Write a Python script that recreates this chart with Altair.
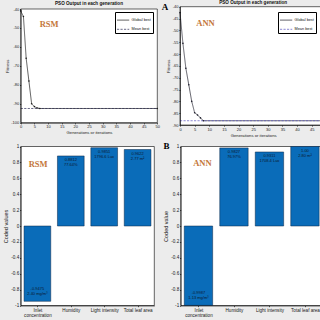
import altair as alt
import pandas as pd

# ---- PSO convergence histories (best fitness per generation) ----
rsm_gen = [0, 1, 2, 3, 4, 5, 6, 7, 50]
rsm_global_best = [-41, -44, -66, -78, -90, -91.5, -92.2, -92.5, -92.5]
rsm_mean_gen = [0, 50]
rsm_mean_best = [-92.5, -92.5]

ann_gen = [0, 1, 2, 3, 4, 5, 6, 7, 8, 50]
ann_global_best = [-42.5, -55.5, -66, -73, -80, -84.8, -85.8, -87, -88.2, -88.2]
ann_mean_gen = [0, 50]
ann_mean_best = [-88.2, -88.2]

series_names = ["Global best", "Mean best"]

# ---- optimum conditions: coded value and actual value per factor ----
factors = [["Inlet", "concentration"], ["Humidity"], ["Light intensity"], ["Total leaf area"]]
factor_index = [1, 2, 3, 4]
rsm_coded = ["-0.9475", "0.8812", "0.9851", "0.9622"]
rsm_actual = ["2.40 mg/m³", "77.64%", "1796.6 Lux", "2.77 m²"]
ann_coded = ["-0.9987", "0.9827", "0.9311", "1.00"]
ann_actual = ["1.13 mg/m³", "76.97%", "1708.4 Lux", "2.80 m²"]

# ---- axis limits and ticks ----
gen_limits = [0, 50]
gen_ticks = [0, 5, 10, 15, 20, 25, 30, 35, 40, 45, 50]
rsm_fit_limits = [-100, -40]
rsm_fit_ticks = [-100, -90, -80, -70, -60, -50, -40]
ann_fit_limits = [-90, -40]
ann_fit_ticks = [-90, -85, -80, -75, -70, -65, -60, -55, -50, -45, -40]
factor_limits = [0.5, 4.5]
coded_limits = [-1, 1]
coded_ticks = [-1, -0.8, -0.6, -0.4, -0.2, 0, 0.2, 0.4, 0.6, 0.8, 1]

FONT = "Liberation Sans"
SERIF = "Liberation Serif"
SIZE = 320
BAR_BLUE = "#0a6cb9"
TAG_ORANGE = "#c4773a"


def make_axis(orient, offset, values, title, label_size, title_size,
              title_padding=1.5, label_expr="toString(datum.value)", line_height=None):
    extra = {}
    if line_height is not None:
        extra["labelLineHeight"] = line_height
    return alt.Axis(
        orient=orient, offset=offset, values=values, title=title, grid=False,
        labelFont=FONT, labelFontSize=label_size, labelColor="#1a1a1a",
        titleFont=FONT, titleFontSize=title_size, titleFontWeight="normal",
        titleColor="#1a1a1a", titlePadding=title_padding,
        domainColor="#000000", domainWidth=0.6, tickColor="#000000",
        tickWidth=0.6, tickSize=1.2, labelPadding=0.8, labelExpr=label_expr,
        labelOverlap=False, labelFlush=False, zindex=1, **extra)


def frame(xlim, ylim, sx, sy):
    df = pd.DataFrame({"x0": [xlim[0]], "x1": [xlim[1]], "y0": [ylim[0]], "y1": [ylim[1]]})
    return alt.Chart(df).mark_rect(fill="white", stroke="#000000", strokeWidth=0.6).encode(
        x=alt.X("x0:Q", scale=sx, axis=None), x2="x1:Q",
        y=alt.Y("y0:Q", scale=sy, axis=None), y2="y1:Q")


def label(text, xv, yv, sx, sy, size, color, font=FONT, weight="normal", dy=0):
    return alt.Chart(pd.DataFrame({"t": [text]})).mark_text(
        font=font, fontSize=size, fontWeight=weight, color=color, dy=dy
    ).encode(x=alt.XDatum(xv, scale=sx, axis=None), y=alt.YDatum(yv, scale=sy, axis=None), text="t:N")


def convergence_panel(gen, gbest, mgen, mbest, fit_limits, fit_ticks, x_range, y_range,
                      colors, legend_xy, tag, tag_xy, title_dy, title_pad):
    sx = alt.Scale(domain=gen_limits, range=x_range, nice=False, zero=False)
    sy = alt.Scale(domain=fit_limits, range=y_range, nice=False, zero=False)
    df = pd.concat([
        pd.DataFrame({"gen": gen, "fit": gbest, "series": series_names[0]}),
        pd.DataFrame({"gen": mgen, "fit": mbest, "series": series_names[1]}),
    ])
    legend = alt.Legend(
        orient="none", legendX=legend_xy[0], legendY=legend_xy[1], title=None,
        labelFont=FONT, labelFontSize=3.8, labelColor="#111", symbolType="stroke",
        symbolSize=150, symbolStrokeWidth=0.7, symbolOffset=0, labelOffset=2,
        rowPadding=0.2, padding=1.6, strokeColor="#000000", fillColor="white",
        cornerRadius=0, labelLimit=60)
    xa = make_axis("bottom", y_range[0] - SIZE, gen_ticks, "Generations or iterations", 4, 4.2,
                   title_padding=2)
    ya = make_axis("left", -x_range[0], fit_ticks, "Fitness", 4, 4.2, title_padding=title_pad)
    lines = alt.Chart(df).mark_line(strokeWidth=0.7).encode(
        x=alt.X("gen:Q", scale=sx, axis=xa),
        y=alt.Y("fit:Q", scale=sy, axis=ya),
        color=alt.Color("series:N", scale=alt.Scale(domain=series_names, range=colors), legend=legend),
        strokeDash=alt.StrokeDash("series:N", scale=alt.Scale(domain=series_names, range=[[1, 0], [2.2, 1.3]]),
                                  legend=legend),
        detail="series:N",
    )
    dots = alt.Chart(df[df["series"] == series_names[0]]).mark_circle(size=2.5, opacity=1, color=colors[0]).encode(
        x=alt.X("gen:Q", scale=sx, axis=None), y=alt.Y("fit:Q", scale=sy, axis=None))
    title = label("PSO Output in each generation", 25, fit_limits[1], sx, sy, 4.6, "#111",
                  weight="bold", dy=title_dy)
    tag_mark = label(tag, tag_xy[0], tag_xy[1], sx, sy, 8.5, TAG_ORANGE, font=SERIF, weight="bold")
    return [frame(gen_limits, fit_limits, sx, sy), lines, dots, title, tag_mark], sx, sy


def coded_panel(coded, actual, x_range, y_range, ytitle, tag, tag_xy, title_pad):
    sx = alt.Scale(domain=factor_limits, range=x_range, nice=False, zero=False)
    sy = alt.Scale(domain=coded_limits, range=y_range, nice=False, zero=False)
    df = pd.DataFrame({
        "idx": factor_index,
        "val": [float(c) for c in coded],
        "txt": [c + "\n" + a for c, a in zip(coded, actual)],
    })
    names_expr = str(factors).replace("'", '"') + "[datum.value - 1]"
    xa = make_axis("bottom", y_range[0] - SIZE, factor_index, None, 4.6, 5,
                   label_expr=names_expr, line_height=5.2)
    ya = make_axis("left", -x_range[0], coded_ticks, ytitle, 4.6, 5.5, title_padding=title_pad)
    bars = alt.Chart(df).transform_calculate(
        lo="datum.idx - 0.4", hi="datum.idx + 0.4"
    ).mark_rect(fill=BAR_BLUE, stroke="#0b2545", strokeWidth=0.5).encode(
        x=alt.X("lo:Q", scale=sx, axis=xa), x2="hi:Q",
        y=alt.Y("val:Q", scale=sy, axis=ya), y2=alt.Y2Datum(0),
    )
    txt_pos = alt.Chart(df).transform_filter("datum.val >= 0").mark_text(
        font=FONT, fontSize=4, color="#0b1a30", baseline="top", dy=2.5, lineBreak="\n", lineHeight=4.6
    ).encode(x=alt.X("idx:Q", scale=sx, axis=None), y=alt.Y("val:Q", scale=sy, axis=None), text="txt:N")
    txt_neg = alt.Chart(df).transform_filter("datum.val < 0").mark_text(
        font=FONT, fontSize=4, color="#0b1a30", baseline="bottom", dy=-10, lineBreak="\n", lineHeight=4.8
    ).encode(x=alt.X("idx:Q", scale=sx, axis=None), y=alt.Y("val:Q", scale=sy, axis=None), text="txt:N")
    tag_mark = label(tag, tag_xy[0], tag_xy[1], sx, sy, 8.5, TAG_ORANGE, font=SERIF, weight="bold")
    return [frame(factor_limits, coded_limits, sx, sy), bars, txt_pos, txt_neg, tag_mark], sx, sy


rsm_layers, _, _ = convergence_panel(
    rsm_gen, rsm_global_best, rsm_mean_gen, rsm_mean_best, rsm_fit_limits, rsm_fit_ticks,
    [20.7, 157.3], [122.7, 9], ["#1c1c1c", "#2b2b55"], (115, 12), "RSM", (10.4, -47.9), -5, 0.8)

ann_layers, ann_sx, ann_sy = convergence_panel(
    ann_gen, ann_global_best, ann_mean_gen, ann_mean_best, ann_fit_limits, ann_fit_ticks,
    [180, 326.3], [125, 6.7], ["#1c1c2a", "#5a55c0"], (278, 12), "ANN", (8.7, -46.8), -3.5, 1.5)
ann_layers.append(label("A", -5.1, -40.3, ann_sx, ann_sy, 9, "#000", font=SERIF, weight="bold"))

rsm_bar_layers, _, _ = coded_panel(rsm_coded, rsm_actual, [20.7, 154.3], [305.5, 146.5],
                                   "Coded values", "RSM", (1.02, 0.78), 2)
ann_bar_layers, b_sx, b_sy = coded_panel(ann_coded, ann_actual, [180.7, 322.7], [305.5, 146.5],
                                         "Coded value", "ANN", (1.11, 0.79), 2)
ann_bar_layers.append(label("B", 0.1, 1.01, b_sx, b_sy, 9, "#000", font=SERIF, weight="bold"))

# every mark sits in one flat layer; each panel positions itself through its own scale ranges
chart = alt.layer(
    *rsm_layers, *ann_layers, *rsm_bar_layers, *ann_bar_layers
).resolve_scale(
    x="independent", y="independent", color="independent", strokeDash="independent"
).properties(
    width=SIZE, height=SIZE, padding=0, background="#ececec",
    autosize=alt.AutoSizeParams(type="none"),
).configure_view(stroke=None)

chart.save("out.html", embed_options={"renderer": "svg", "actions": False})
